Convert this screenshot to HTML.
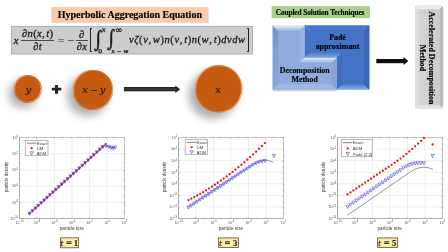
<!DOCTYPE html>
<html><head><meta charset="utf-8"><style>
*{margin:0;padding:0;box-sizing:border-box}
html,body{width:448px;height:252px;overflow:hidden;background:#fff}
body{position:relative;font-family:"Liberation Serif",serif}
.abs{position:absolute;white-space:nowrap}
.b{font-weight:bold;color:#000;-webkit-text-stroke:0.15px #000}
.eq{font-family:"DejaVu Serif",serif;font-style:italic;color:#1a1a1a;-webkit-text-stroke:0.2px #1a1a1a;position:absolute;white-space:nowrap}
.up{font-style:normal}
i{font-style:italic} b.sp{display:inline-block;width:1.3px}
svg text{font-family:"Liberation Sans",sans-serif}
</style></head><body>
<svg width="448" height="252" viewBox="0 0 448 252" style="position:absolute;left:0;top:0">
<defs>
<filter id="sh" x="-50%" y="-50%" width="200%" height="200%"><feGaussianBlur stdDeviation="4.4"/></filter>
<filter id="sb" x="-10%" y="-200%" width="120%" height="500%"><feGaussianBlur stdDeviation="0.6"/></filter>
<radialGradient id="og" cx="50%" cy="45%" r="50%">
<stop offset="0" stop-color="#c65c14"/><stop offset="0.88" stop-color="#c45a12"/><stop offset="0.95" stop-color="#d8874d"/><stop offset="1" stop-color="#c05510"/>
</radialGradient>
<linearGradient id="rim" x1="0" y1="0.2" x2="1" y2="0.8"><stop offset="0" stop-color="#fff8f0" stop-opacity="1"/><stop offset="0.25" stop-color="#f4b890" stop-opacity="0.45"/><stop offset="0.65" stop-color="#f0b080" stop-opacity="0.3"/><stop offset="1" stop-color="#ffe0c4" stop-opacity="1"/></linearGradient>
<radialGradient id="yl" cx="50%" cy="50%" r="60%"><stop offset="0" stop-color="#fff3c4"/><stop offset="0.7" stop-color="#ffe9a2"/><stop offset="1" stop-color="#ffe08a"/></radialGradient>
<linearGradient id="vg" x1="0" y1="0" x2="1" y2="0">
<stop offset="0" stop-color="#d6d6d6"/><stop offset="1" stop-color="#c9c9c9"/>
</linearGradient>
</defs>
<!-- title box -->
<rect x="51.3" y="7" width="157.3" height="15.8" fill="#f8cbad"/>
<!-- equation box -->
<rect x="11.4" y="26.4" width="241" height="27.6" fill="#cdcdcd" stroke="#93afc8" stroke-width="0.9"/>
<!-- circles -->
<circle cx="23.1" cy="93.9" r="14" fill="#8e8e92" filter="url(#sh)" opacity="0.72"/>
<circle cx="27.7" cy="88.9" r="14" fill="#c55a11"/>
<circle cx="27.7" cy="88.9" r="13.3" fill="none" stroke="url(#rim)" stroke-width="0.9"/>
<circle cx="87.45" cy="95.64999999999999" r="20.2" fill="#8e8e92" filter="url(#sh)" opacity="0.72"/>
<circle cx="92.95" cy="89.85" r="20.2" fill="#c55a11"/>
<circle cx="92.95" cy="89.85" r="19.5" fill="none" stroke="url(#rim)" stroke-width="0.9"/>
<circle cx="212.6" cy="95.0" r="23.8" fill="#8e8e92" filter="url(#sh)" opacity="0.72"/>
<circle cx="218.6" cy="88.8" r="23.8" fill="#c55a11"/>
<circle cx="218.6" cy="88.8" r="23.1" fill="none" stroke="url(#rim)" stroke-width="0.9"/>
<!-- plus -->
<rect x="51.8" y="87.7" width="9.5" height="2.9" rx="0.5" fill="#262626"/>
<rect x="54.9" y="84.9" width="3.1" height="8.8" rx="0.5" fill="#262626"/>
<!-- arrow 1 -->
<linearGradient id="ag" x1="0" y1="0" x2="0" y2="1"><stop offset="0" stop-color="#1c1c1c"/><stop offset="0.5" stop-color="#3c3c3c"/><stop offset="1" stop-color="#1c1c1c"/></linearGradient>
<rect x="123.9" y="87" width="52" height="4.3" fill="url(#ag)"/>
<path d="M175.3,85.4 L180.2,89.15 L175.3,93.1 Z" fill="#262626"/>
<!-- green box -->
<rect x="271.6" y="6.1" width="98.4" height="12.1" fill="#a9d18e"/>
<!-- blue graphic -->
<linearGradient id="lt" x1="0" y1="0" x2="0" y2="1"><stop offset="0" stop-color="#f2faff"/><stop offset="0.3" stop-color="#c6dbf6"/><stop offset="1" stop-color="#94afdf"/></linearGradient>
<linearGradient id="db" x1="0" y1="0" x2="0" y2="1"><stop offset="0" stop-color="#4a78c8"/><stop offset="1" stop-color="#86b3f2"/></linearGradient>
<linearGradient id="ds" x1="0" y1="0" x2="0" y2="1"><stop offset="0" stop-color="#4674c5"/><stop offset="1" stop-color="#7ca6e6"/></linearGradient>
<linearGradient id="ll" x1="0" y1="0" x2="0" y2="1"><stop offset="0" stop-color="#7690c8"/><stop offset="0.4" stop-color="#859fd4"/><stop offset="1" stop-color="#8ba6da"/></linearGradient>
<rect x="273" y="89.8" width="64" height="1.6" fill="#d4d4d4" filter="url(#sb)"/>
<path d="M272.7,25.6 H304.9 V57.6 H337 V89.8 H272.7 Z" fill="#8faadc"/>
<path d="M272.7,25.6 L278.2,31.1 V84.3 L272.7,89.8 Z" fill="url(#ll)"/>
<path d="M304.9,25.6 V57.6 L299.4,63.1 V31.1 Z" fill="#97b1e1"/>
<path d="M272.7,25.6 H304.9 L299.4,31.1 H278.2 Z" fill="url(#lt)"/>
<path d="M304.9,57.6 H337 L331.5,63.1 H299.4 Z" fill="url(#lt)"/>
<path d="M337,57.6 L331.5,63.1 V84.3 L337,89.8 Z" fill="#88a2d5"/>
<path d="M272.7,89.8 L278.2,84.3 H331.5 L337,89.8 Z" fill="#9fb7e3"/>
<path d="M304.9,25.6 H369.3 V89.6 H337 V57.6 H304.9 Z" fill="#4472c4"/>
<path d="M304.9,25.6 H369.3 L363.8,31.1 H310.4 Z" fill="#4876c7"/>
<path d="M304.9,57.6 H337 L342.5,52.1 H310.4 Z" fill="url(#ds)"/>
<path d="M305.2,25.8 L310.4,31.1" stroke="#6f95d8" stroke-width="0.7"/>
<path d="M337,57.6 L342.5,52.1 V84.1 L337,89.6 Z" fill="#3f6cbe"/>
<path d="M337,89.6 L342.5,84.1 H363.8 L369.3,89.6 Z" fill="url(#db)"/>
<path d="M369.3,25.6 V89.6 L363.8,84.1 V31.1 Z" fill="#3c66b5"/>
<!-- arrow 2 -->
<rect x="376.3" y="59" width="28.2" height="4.2" fill="#0d0d0d"/>
<path d="M403.6,56.9 L408.3,60.95 L403.6,64.9 Z" fill="#0d0d0d"/>
<!-- vertical box -->
<clipPath id="vc"><rect x="414.8" y="5" width="28.7" height="104" rx="4.5"/></clipPath>
<g clip-path="url(#vc)">
<rect x="414.8" y="5" width="28.7" height="104" fill="url(#vg)"/>
<path d="M414.8,5 H443.5 L440,9 H418.3 Z" fill="#ececec"/>
<path d="M414.8,5 L418.3,9 V105.5 L414.8,109 Z" fill="#dedede"/>
<path d="M443.5,5 L440,9 V105.5 L443.5,109 Z" fill="#b9b9b9"/>
<path d="M414.8,109 L418.3,105.5 H440 L443.5,109 Z" fill="#e4e4e4"/>
</g>
<!-- plots -->
<line x1="37.00" y1="137.5" x2="37.00" y2="218.5" stroke="#e4e4e4" stroke-width="0.6"/>
<line x1="54.50" y1="137.5" x2="54.50" y2="218.5" stroke="#e4e4e4" stroke-width="0.6"/>
<line x1="72.00" y1="137.5" x2="72.00" y2="218.5" stroke="#e4e4e4" stroke-width="0.6"/>
<line x1="89.50" y1="137.5" x2="89.50" y2="218.5" stroke="#e4e4e4" stroke-width="0.6"/>
<line x1="107.00" y1="137.5" x2="107.00" y2="218.5" stroke="#e4e4e4" stroke-width="0.6"/>
<line x1="19.5" y1="153.70" x2="124.5" y2="153.70" stroke="#e4e4e4" stroke-width="0.6"/>
<line x1="19.5" y1="169.90" x2="124.5" y2="169.90" stroke="#e4e4e4" stroke-width="0.6"/>
<line x1="19.5" y1="186.10" x2="124.5" y2="186.10" stroke="#e4e4e4" stroke-width="0.6"/>
<line x1="19.5" y1="202.30" x2="124.5" y2="202.30" stroke="#e4e4e4" stroke-width="0.6"/>
<rect x="19.5" y="137.5" width="105.0" height="81.0" fill="none" stroke="#c8c8c8" stroke-width="0.8"/>
<line x1="19.5" y1="137.5" x2="19.5" y2="218.5" stroke="#b4b4b4" stroke-width="0.8"/>
<line x1="19.5" y1="218.5" x2="124.5" y2="218.5" stroke="#b4b4b4" stroke-width="0.8"/>
<path d="M19.50,218.5v-1.2M19.50,137.5v1.2M22.13,218.5v-0.5M22.13,137.5v0.5M23.67,218.5v-0.5M23.67,137.5v0.5M24.77,218.5v-0.5M24.77,137.5v0.5M25.62,218.5v-0.5M25.62,137.5v0.5M26.31,218.5v-0.5M26.31,137.5v0.5M26.89,218.5v-0.5M26.89,137.5v0.5M27.40,218.5v-0.5M27.40,137.5v0.5M27.85,218.5v-0.5M27.85,137.5v0.5M28.25,218.5v-0.8M28.25,137.5v0.8M30.88,218.5v-0.5M30.88,137.5v0.5M32.42,218.5v-0.5M32.42,137.5v0.5M33.52,218.5v-0.5M33.52,137.5v0.5M34.37,218.5v-0.5M34.37,137.5v0.5M35.06,218.5v-0.5M35.06,137.5v0.5M35.64,218.5v-0.5M35.64,137.5v0.5M36.15,218.5v-0.5M36.15,137.5v0.5M36.60,218.5v-0.5M36.60,137.5v0.5M37.00,218.5v-1.2M37.00,137.5v1.2M39.63,218.5v-0.5M39.63,137.5v0.5M41.17,218.5v-0.5M41.17,137.5v0.5M42.27,218.5v-0.5M42.27,137.5v0.5M43.12,218.5v-0.5M43.12,137.5v0.5M43.81,218.5v-0.5M43.81,137.5v0.5M44.39,218.5v-0.5M44.39,137.5v0.5M44.90,218.5v-0.5M44.90,137.5v0.5M45.35,218.5v-0.5M45.35,137.5v0.5M45.75,218.5v-0.8M45.75,137.5v0.8M48.38,218.5v-0.5M48.38,137.5v0.5M49.92,218.5v-0.5M49.92,137.5v0.5M51.02,218.5v-0.5M51.02,137.5v0.5M51.87,218.5v-0.5M51.87,137.5v0.5M52.56,218.5v-0.5M52.56,137.5v0.5M53.14,218.5v-0.5M53.14,137.5v0.5M53.65,218.5v-0.5M53.65,137.5v0.5M54.10,218.5v-0.5M54.10,137.5v0.5M54.50,218.5v-1.2M54.50,137.5v1.2M57.13,218.5v-0.5M57.13,137.5v0.5M58.67,218.5v-0.5M58.67,137.5v0.5M59.77,218.5v-0.5M59.77,137.5v0.5M60.62,218.5v-0.5M60.62,137.5v0.5M61.31,218.5v-0.5M61.31,137.5v0.5M61.89,218.5v-0.5M61.89,137.5v0.5M62.40,218.5v-0.5M62.40,137.5v0.5M62.85,218.5v-0.5M62.85,137.5v0.5M63.25,218.5v-0.8M63.25,137.5v0.8M65.88,218.5v-0.5M65.88,137.5v0.5M67.42,218.5v-0.5M67.42,137.5v0.5M68.52,218.5v-0.5M68.52,137.5v0.5M69.37,218.5v-0.5M69.37,137.5v0.5M70.06,218.5v-0.5M70.06,137.5v0.5M70.64,218.5v-0.5M70.64,137.5v0.5M71.15,218.5v-0.5M71.15,137.5v0.5M71.60,218.5v-0.5M71.60,137.5v0.5M72.00,218.5v-1.2M72.00,137.5v1.2M74.63,218.5v-0.5M74.63,137.5v0.5M76.17,218.5v-0.5M76.17,137.5v0.5M77.27,218.5v-0.5M77.27,137.5v0.5M78.12,218.5v-0.5M78.12,137.5v0.5M78.81,218.5v-0.5M78.81,137.5v0.5M79.39,218.5v-0.5M79.39,137.5v0.5M79.90,218.5v-0.5M79.90,137.5v0.5M80.35,218.5v-0.5M80.35,137.5v0.5M80.75,218.5v-0.8M80.75,137.5v0.8M83.38,218.5v-0.5M83.38,137.5v0.5M84.92,218.5v-0.5M84.92,137.5v0.5M86.02,218.5v-0.5M86.02,137.5v0.5M86.87,218.5v-0.5M86.87,137.5v0.5M87.56,218.5v-0.5M87.56,137.5v0.5M88.14,218.5v-0.5M88.14,137.5v0.5M88.65,218.5v-0.5M88.65,137.5v0.5M89.10,218.5v-0.5M89.10,137.5v0.5M89.50,218.5v-1.2M89.50,137.5v1.2M92.13,218.5v-0.5M92.13,137.5v0.5M93.67,218.5v-0.5M93.67,137.5v0.5M94.77,218.5v-0.5M94.77,137.5v0.5M95.62,218.5v-0.5M95.62,137.5v0.5M96.31,218.5v-0.5M96.31,137.5v0.5M96.89,218.5v-0.5M96.89,137.5v0.5M97.40,218.5v-0.5M97.40,137.5v0.5M97.85,218.5v-0.5M97.85,137.5v0.5M98.25,218.5v-0.8M98.25,137.5v0.8M100.88,218.5v-0.5M100.88,137.5v0.5M102.42,218.5v-0.5M102.42,137.5v0.5M103.52,218.5v-0.5M103.52,137.5v0.5M104.37,218.5v-0.5M104.37,137.5v0.5M105.06,218.5v-0.5M105.06,137.5v0.5M105.64,218.5v-0.5M105.64,137.5v0.5M106.15,218.5v-0.5M106.15,137.5v0.5M106.60,218.5v-0.5M106.60,137.5v0.5M107.00,218.5v-1.2M107.00,137.5v1.2M109.63,218.5v-0.5M109.63,137.5v0.5M111.17,218.5v-0.5M111.17,137.5v0.5M112.27,218.5v-0.5M112.27,137.5v0.5M113.12,218.5v-0.5M113.12,137.5v0.5M113.81,218.5v-0.5M113.81,137.5v0.5M114.39,218.5v-0.5M114.39,137.5v0.5M114.90,218.5v-0.5M114.90,137.5v0.5M115.35,218.5v-0.5M115.35,137.5v0.5M115.75,218.5v-0.8M115.75,137.5v0.8M118.38,218.5v-0.5M118.38,137.5v0.5M119.92,218.5v-0.5M119.92,137.5v0.5M121.02,218.5v-0.5M121.02,137.5v0.5M121.87,218.5v-0.5M121.87,137.5v0.5M122.56,218.5v-0.5M122.56,137.5v0.5M123.14,218.5v-0.5M123.14,137.5v0.5M123.65,218.5v-0.5M123.65,137.5v0.5M124.10,218.5v-0.5M124.10,137.5v0.5M19.5,218.50h1.2M124.5,218.50h-1.2M19.5,216.06h0.5M124.5,216.06h-0.5M19.5,214.64h0.5M124.5,214.64h-0.5M19.5,213.62h0.5M124.5,213.62h-0.5M19.5,212.84h0.5M124.5,212.84h-0.5M19.5,212.20h0.5M124.5,212.20h-0.5M19.5,211.65h0.5M124.5,211.65h-0.5M19.5,211.18h0.5M124.5,211.18h-0.5M19.5,210.77h0.5M124.5,210.77h-0.5M19.5,210.40h0.8M124.5,210.40h-0.8M19.5,207.96h0.5M124.5,207.96h-0.5M19.5,206.54h0.5M124.5,206.54h-0.5M19.5,205.52h0.5M124.5,205.52h-0.5M19.5,204.74h0.5M124.5,204.74h-0.5M19.5,204.10h0.5M124.5,204.10h-0.5M19.5,203.55h0.5M124.5,203.55h-0.5M19.5,203.08h0.5M124.5,203.08h-0.5M19.5,202.67h0.5M124.5,202.67h-0.5M19.5,202.30h1.2M124.5,202.30h-1.2M19.5,199.86h0.5M124.5,199.86h-0.5M19.5,198.44h0.5M124.5,198.44h-0.5M19.5,197.42h0.5M124.5,197.42h-0.5M19.5,196.64h0.5M124.5,196.64h-0.5M19.5,196.00h0.5M124.5,196.00h-0.5M19.5,195.45h0.5M124.5,195.45h-0.5M19.5,194.98h0.5M124.5,194.98h-0.5M19.5,194.57h0.5M124.5,194.57h-0.5M19.5,194.20h0.8M124.5,194.20h-0.8M19.5,191.76h0.5M124.5,191.76h-0.5M19.5,190.34h0.5M124.5,190.34h-0.5M19.5,189.32h0.5M124.5,189.32h-0.5M19.5,188.54h0.5M124.5,188.54h-0.5M19.5,187.90h0.5M124.5,187.90h-0.5M19.5,187.35h0.5M124.5,187.35h-0.5M19.5,186.88h0.5M124.5,186.88h-0.5M19.5,186.47h0.5M124.5,186.47h-0.5M19.5,186.10h1.2M124.5,186.10h-1.2M19.5,183.66h0.5M124.5,183.66h-0.5M19.5,182.24h0.5M124.5,182.24h-0.5M19.5,181.22h0.5M124.5,181.22h-0.5M19.5,180.44h0.5M124.5,180.44h-0.5M19.5,179.80h0.5M124.5,179.80h-0.5M19.5,179.25h0.5M124.5,179.25h-0.5M19.5,178.78h0.5M124.5,178.78h-0.5M19.5,178.37h0.5M124.5,178.37h-0.5M19.5,178.00h0.8M124.5,178.00h-0.8M19.5,175.56h0.5M124.5,175.56h-0.5M19.5,174.14h0.5M124.5,174.14h-0.5M19.5,173.12h0.5M124.5,173.12h-0.5M19.5,172.34h0.5M124.5,172.34h-0.5M19.5,171.70h0.5M124.5,171.70h-0.5M19.5,171.15h0.5M124.5,171.15h-0.5M19.5,170.68h0.5M124.5,170.68h-0.5M19.5,170.27h0.5M124.5,170.27h-0.5M19.5,169.90h1.2M124.5,169.90h-1.2M19.5,167.46h0.5M124.5,167.46h-0.5M19.5,166.04h0.5M124.5,166.04h-0.5M19.5,165.02h0.5M124.5,165.02h-0.5M19.5,164.24h0.5M124.5,164.24h-0.5M19.5,163.60h0.5M124.5,163.60h-0.5M19.5,163.05h0.5M124.5,163.05h-0.5M19.5,162.58h0.5M124.5,162.58h-0.5M19.5,162.17h0.5M124.5,162.17h-0.5M19.5,161.80h0.8M124.5,161.80h-0.8M19.5,159.36h0.5M124.5,159.36h-0.5M19.5,157.94h0.5M124.5,157.94h-0.5M19.5,156.92h0.5M124.5,156.92h-0.5M19.5,156.14h0.5M124.5,156.14h-0.5M19.5,155.50h0.5M124.5,155.50h-0.5M19.5,154.95h0.5M124.5,154.95h-0.5M19.5,154.48h0.5M124.5,154.48h-0.5M19.5,154.07h0.5M124.5,154.07h-0.5M19.5,153.70h1.2M124.5,153.70h-1.2M19.5,151.26h0.5M124.5,151.26h-0.5M19.5,149.84h0.5M124.5,149.84h-0.5M19.5,148.82h0.5M124.5,148.82h-0.5M19.5,148.04h0.5M124.5,148.04h-0.5M19.5,147.40h0.5M124.5,147.40h-0.5M19.5,146.85h0.5M124.5,146.85h-0.5M19.5,146.38h0.5M124.5,146.38h-0.5M19.5,145.97h0.5M124.5,145.97h-0.5M19.5,145.60h0.8M124.5,145.60h-0.8M19.5,143.16h0.5M124.5,143.16h-0.5M19.5,141.74h0.5M124.5,141.74h-0.5M19.5,140.72h0.5M124.5,140.72h-0.5M19.5,139.94h0.5M124.5,139.94h-0.5M19.5,139.30h0.5M124.5,139.30h-0.5M19.5,138.75h0.5M124.5,138.75h-0.5M19.5,138.28h0.5M124.5,138.28h-0.5M19.5,137.87h0.5M124.5,137.87h-0.5" stroke="#8a8a8a" stroke-width="0.45" fill="none"/>
<text x="19.50" y="223.8" font-size="3.5" text-anchor="middle" fill="#555">10<tspan dy="-1.4" font-size="2.6">-10</tspan></text>
<text x="37.00" y="223.8" font-size="3.5" text-anchor="middle" fill="#555">10<tspan dy="-1.4" font-size="2.6">-8</tspan></text>
<text x="54.50" y="223.8" font-size="3.5" text-anchor="middle" fill="#555">10<tspan dy="-1.4" font-size="2.6">-6</tspan></text>
<text x="72.00" y="223.8" font-size="3.5" text-anchor="middle" fill="#555">10<tspan dy="-1.4" font-size="2.6">-4</tspan></text>
<text x="89.50" y="223.8" font-size="3.5" text-anchor="middle" fill="#555">10<tspan dy="-1.4" font-size="2.6">-2</tspan></text>
<text x="107.00" y="223.8" font-size="3.5" text-anchor="middle" fill="#555">10<tspan dy="-1.4" font-size="2.6">0</tspan></text>
<text x="124.50" y="223.8" font-size="3.5" text-anchor="middle" fill="#555">10<tspan dy="-1.4" font-size="2.6">2</tspan></text>
<text x="18.2" y="138.80" font-size="3.5" text-anchor="end" fill="#555">10<tspan dy="-1.4" font-size="2.6">0</tspan></text>
<text x="18.2" y="155.00" font-size="3.5" text-anchor="end" fill="#555">10<tspan dy="-1.4" font-size="2.6">-2</tspan></text>
<text x="18.2" y="171.20" font-size="3.5" text-anchor="end" fill="#555">10<tspan dy="-1.4" font-size="2.6">-4</tspan></text>
<text x="18.2" y="187.40" font-size="3.5" text-anchor="end" fill="#555">10<tspan dy="-1.4" font-size="2.6">-6</tspan></text>
<text x="18.2" y="203.60" font-size="3.5" text-anchor="end" fill="#555">10<tspan dy="-1.4" font-size="2.6">-8</tspan></text>
<text x="18.2" y="219.80" font-size="3.5" text-anchor="end" fill="#555">10<tspan dy="-1.4" font-size="2.6">-10</tspan></text>
<polyline points="29.50,213.50 104.50,145.20 108.00,146.60 115.00,148.00" fill="none" stroke="#555" stroke-width="0.7"/>
<circle cx="29.50" cy="213.50" r="1.15" fill="#ee1111"/>
<circle cx="32.43" cy="210.83" r="1.15" fill="#ee1111"/>
<circle cx="35.36" cy="208.16" r="1.15" fill="#ee1111"/>
<circle cx="38.29" cy="205.49" r="1.15" fill="#ee1111"/>
<circle cx="41.22" cy="202.82" r="1.15" fill="#ee1111"/>
<circle cx="44.15" cy="200.15" r="1.15" fill="#ee1111"/>
<circle cx="47.08" cy="197.48" r="1.15" fill="#ee1111"/>
<circle cx="50.01" cy="194.81" r="1.15" fill="#ee1111"/>
<circle cx="52.94" cy="192.14" r="1.15" fill="#ee1111"/>
<circle cx="55.87" cy="189.47" r="1.15" fill="#ee1111"/>
<circle cx="58.80" cy="186.80" r="1.15" fill="#ee1111"/>
<circle cx="61.73" cy="184.13" r="1.15" fill="#ee1111"/>
<circle cx="64.66" cy="181.46" r="1.15" fill="#ee1111"/>
<circle cx="67.59" cy="178.79" r="1.15" fill="#ee1111"/>
<circle cx="70.52" cy="176.12" r="1.15" fill="#ee1111"/>
<circle cx="73.45" cy="173.45" r="1.15" fill="#ee1111"/>
<circle cx="76.38" cy="170.78" r="1.15" fill="#ee1111"/>
<circle cx="79.31" cy="168.11" r="1.15" fill="#ee1111"/>
<circle cx="82.24" cy="165.44" r="1.15" fill="#ee1111"/>
<circle cx="85.17" cy="162.77" r="1.15" fill="#ee1111"/>
<circle cx="88.10" cy="160.10" r="1.15" fill="#ee1111"/>
<circle cx="91.03" cy="157.43" r="1.15" fill="#ee1111"/>
<circle cx="93.96" cy="154.76" r="1.15" fill="#ee1111"/>
<circle cx="96.89" cy="152.09" r="1.15" fill="#ee1111"/>
<circle cx="99.82" cy="149.42" r="1.15" fill="#ee1111"/>
<circle cx="102.75" cy="146.75" r="1.15" fill="#ee1111"/>
<circle cx="105.68" cy="144.08" r="1.15" fill="#ee1111"/>
<path d="M27.95,212.20h3.1l-1.55,3.1z" fill="none" stroke="#3434ee" stroke-width="0.55"/>
<path d="M30.88,209.53h3.1l-1.55,3.1z" fill="none" stroke="#3434ee" stroke-width="0.55"/>
<path d="M33.81,206.86h3.1l-1.55,3.1z" fill="none" stroke="#3434ee" stroke-width="0.55"/>
<path d="M36.74,204.19h3.1l-1.55,3.1z" fill="none" stroke="#3434ee" stroke-width="0.55"/>
<path d="M39.67,201.52h3.1l-1.55,3.1z" fill="none" stroke="#3434ee" stroke-width="0.55"/>
<path d="M42.60,198.85h3.1l-1.55,3.1z" fill="none" stroke="#3434ee" stroke-width="0.55"/>
<path d="M45.53,196.18h3.1l-1.55,3.1z" fill="none" stroke="#3434ee" stroke-width="0.55"/>
<path d="M48.46,193.51h3.1l-1.55,3.1z" fill="none" stroke="#3434ee" stroke-width="0.55"/>
<path d="M51.39,190.84h3.1l-1.55,3.1z" fill="none" stroke="#3434ee" stroke-width="0.55"/>
<path d="M54.32,188.17h3.1l-1.55,3.1z" fill="none" stroke="#3434ee" stroke-width="0.55"/>
<path d="M57.25,185.50h3.1l-1.55,3.1z" fill="none" stroke="#3434ee" stroke-width="0.55"/>
<path d="M60.18,182.83h3.1l-1.55,3.1z" fill="none" stroke="#3434ee" stroke-width="0.55"/>
<path d="M63.11,180.16h3.1l-1.55,3.1z" fill="none" stroke="#3434ee" stroke-width="0.55"/>
<path d="M66.04,177.49h3.1l-1.55,3.1z" fill="none" stroke="#3434ee" stroke-width="0.55"/>
<path d="M68.97,174.82h3.1l-1.55,3.1z" fill="none" stroke="#3434ee" stroke-width="0.55"/>
<path d="M71.90,172.15h3.1l-1.55,3.1z" fill="none" stroke="#3434ee" stroke-width="0.55"/>
<path d="M74.83,169.48h3.1l-1.55,3.1z" fill="none" stroke="#3434ee" stroke-width="0.55"/>
<path d="M77.76,166.81h3.1l-1.55,3.1z" fill="none" stroke="#3434ee" stroke-width="0.55"/>
<path d="M80.69,164.14h3.1l-1.55,3.1z" fill="none" stroke="#3434ee" stroke-width="0.55"/>
<path d="M83.62,161.47h3.1l-1.55,3.1z" fill="none" stroke="#3434ee" stroke-width="0.55"/>
<path d="M86.55,158.80h3.1l-1.55,3.1z" fill="none" stroke="#3434ee" stroke-width="0.55"/>
<path d="M89.48,156.13h3.1l-1.55,3.1z" fill="none" stroke="#3434ee" stroke-width="0.55"/>
<path d="M92.41,153.46h3.1l-1.55,3.1z" fill="none" stroke="#3434ee" stroke-width="0.55"/>
<path d="M95.34,150.79h3.1l-1.55,3.1z" fill="none" stroke="#3434ee" stroke-width="0.55"/>
<path d="M98.27,148.12h3.1l-1.55,3.1z" fill="none" stroke="#3434ee" stroke-width="0.55"/>
<path d="M101.20,145.45h3.1l-1.55,3.1z" fill="none" stroke="#3434ee" stroke-width="0.55"/>
<path d="M104.25,145.00h3.1l-1.55,3.1z" fill="none" stroke="#3434ee" stroke-width="0.55"/>
<path d="M107.15,145.60h3.1l-1.55,3.1z" fill="none" stroke="#3434ee" stroke-width="0.55"/>
<path d="M109.65,146.40h3.1l-1.55,3.1z" fill="none" stroke="#3434ee" stroke-width="0.55"/>
<path d="M111.65,147.10h3.1l-1.55,3.1z" fill="none" stroke="#3434ee" stroke-width="0.55"/>
<path d="M113.55,146.00h3.1l-1.55,3.1z" fill="none" stroke="#3434ee" stroke-width="0.55"/>
<rect x="25.3" y="140.4" width="22.7" height="15.199999999999989" fill="#fff" stroke="#a8a8a8" stroke-width="0.8"/>
<line x1="26.900000000000002" y1="143.13" x2="36.1" y2="143.13" stroke="#606060" stroke-width="0.8"/>
<text x="36.7" y="144.63" font-size="4.3" fill="#3a3a3a">Exact</text>
<circle cx="31.70" cy="148.20" r="1.15" fill="#ee1111"/>
<text x="36.7" y="149.70" font-size="4.3" fill="#3a3a3a">DM</text>
<path d="M29.95,151.77h3.5l-1.75,3.1z" fill="none" stroke="#3030e8" stroke-width="0.55"/>
<text x="36.7" y="154.77" font-size="4.3" fill="#3a3a3a">ADM</text>
<line x1="196.00" y1="137.5" x2="196.00" y2="218.5" stroke="#e4e4e4" stroke-width="0.6"/>
<line x1="213.50" y1="137.5" x2="213.50" y2="218.5" stroke="#e4e4e4" stroke-width="0.6"/>
<line x1="231.00" y1="137.5" x2="231.00" y2="218.5" stroke="#e4e4e4" stroke-width="0.6"/>
<line x1="248.50" y1="137.5" x2="248.50" y2="218.5" stroke="#e4e4e4" stroke-width="0.6"/>
<line x1="266.00" y1="137.5" x2="266.00" y2="218.5" stroke="#e4e4e4" stroke-width="0.6"/>
<line x1="178.5" y1="149.07" x2="283.5" y2="149.07" stroke="#e4e4e4" stroke-width="0.6"/>
<line x1="178.5" y1="160.64" x2="283.5" y2="160.64" stroke="#e4e4e4" stroke-width="0.6"/>
<line x1="178.5" y1="172.21" x2="283.5" y2="172.21" stroke="#e4e4e4" stroke-width="0.6"/>
<line x1="178.5" y1="183.79" x2="283.5" y2="183.79" stroke="#e4e4e4" stroke-width="0.6"/>
<line x1="178.5" y1="195.36" x2="283.5" y2="195.36" stroke="#e4e4e4" stroke-width="0.6"/>
<line x1="178.5" y1="206.93" x2="283.5" y2="206.93" stroke="#e4e4e4" stroke-width="0.6"/>
<rect x="178.5" y="137.5" width="105.0" height="81.0" fill="none" stroke="#c8c8c8" stroke-width="0.8"/>
<line x1="178.5" y1="137.5" x2="178.5" y2="218.5" stroke="#b4b4b4" stroke-width="0.8"/>
<line x1="178.5" y1="218.5" x2="283.5" y2="218.5" stroke="#b4b4b4" stroke-width="0.8"/>
<path d="M178.50,218.5v-1.2M178.50,137.5v1.2M181.13,218.5v-0.5M181.13,137.5v0.5M182.67,218.5v-0.5M182.67,137.5v0.5M183.77,218.5v-0.5M183.77,137.5v0.5M184.62,218.5v-0.5M184.62,137.5v0.5M185.31,218.5v-0.5M185.31,137.5v0.5M185.89,218.5v-0.5M185.89,137.5v0.5M186.40,218.5v-0.5M186.40,137.5v0.5M186.85,218.5v-0.5M186.85,137.5v0.5M187.25,218.5v-0.8M187.25,137.5v0.8M189.88,218.5v-0.5M189.88,137.5v0.5M191.42,218.5v-0.5M191.42,137.5v0.5M192.52,218.5v-0.5M192.52,137.5v0.5M193.37,218.5v-0.5M193.37,137.5v0.5M194.06,218.5v-0.5M194.06,137.5v0.5M194.64,218.5v-0.5M194.64,137.5v0.5M195.15,218.5v-0.5M195.15,137.5v0.5M195.60,218.5v-0.5M195.60,137.5v0.5M196.00,218.5v-1.2M196.00,137.5v1.2M198.63,218.5v-0.5M198.63,137.5v0.5M200.17,218.5v-0.5M200.17,137.5v0.5M201.27,218.5v-0.5M201.27,137.5v0.5M202.12,218.5v-0.5M202.12,137.5v0.5M202.81,218.5v-0.5M202.81,137.5v0.5M203.39,218.5v-0.5M203.39,137.5v0.5M203.90,218.5v-0.5M203.90,137.5v0.5M204.35,218.5v-0.5M204.35,137.5v0.5M204.75,218.5v-0.8M204.75,137.5v0.8M207.38,218.5v-0.5M207.38,137.5v0.5M208.92,218.5v-0.5M208.92,137.5v0.5M210.02,218.5v-0.5M210.02,137.5v0.5M210.87,218.5v-0.5M210.87,137.5v0.5M211.56,218.5v-0.5M211.56,137.5v0.5M212.14,218.5v-0.5M212.14,137.5v0.5M212.65,218.5v-0.5M212.65,137.5v0.5M213.10,218.5v-0.5M213.10,137.5v0.5M213.50,218.5v-1.2M213.50,137.5v1.2M216.13,218.5v-0.5M216.13,137.5v0.5M217.67,218.5v-0.5M217.67,137.5v0.5M218.77,218.5v-0.5M218.77,137.5v0.5M219.62,218.5v-0.5M219.62,137.5v0.5M220.31,218.5v-0.5M220.31,137.5v0.5M220.89,218.5v-0.5M220.89,137.5v0.5M221.40,218.5v-0.5M221.40,137.5v0.5M221.85,218.5v-0.5M221.85,137.5v0.5M222.25,218.5v-0.8M222.25,137.5v0.8M224.88,218.5v-0.5M224.88,137.5v0.5M226.42,218.5v-0.5M226.42,137.5v0.5M227.52,218.5v-0.5M227.52,137.5v0.5M228.37,218.5v-0.5M228.37,137.5v0.5M229.06,218.5v-0.5M229.06,137.5v0.5M229.64,218.5v-0.5M229.64,137.5v0.5M230.15,218.5v-0.5M230.15,137.5v0.5M230.60,218.5v-0.5M230.60,137.5v0.5M231.00,218.5v-1.2M231.00,137.5v1.2M233.63,218.5v-0.5M233.63,137.5v0.5M235.17,218.5v-0.5M235.17,137.5v0.5M236.27,218.5v-0.5M236.27,137.5v0.5M237.12,218.5v-0.5M237.12,137.5v0.5M237.81,218.5v-0.5M237.81,137.5v0.5M238.39,218.5v-0.5M238.39,137.5v0.5M238.90,218.5v-0.5M238.90,137.5v0.5M239.35,218.5v-0.5M239.35,137.5v0.5M239.75,218.5v-0.8M239.75,137.5v0.8M242.38,218.5v-0.5M242.38,137.5v0.5M243.92,218.5v-0.5M243.92,137.5v0.5M245.02,218.5v-0.5M245.02,137.5v0.5M245.87,218.5v-0.5M245.87,137.5v0.5M246.56,218.5v-0.5M246.56,137.5v0.5M247.14,218.5v-0.5M247.14,137.5v0.5M247.65,218.5v-0.5M247.65,137.5v0.5M248.10,218.5v-0.5M248.10,137.5v0.5M248.50,218.5v-1.2M248.50,137.5v1.2M251.13,218.5v-0.5M251.13,137.5v0.5M252.67,218.5v-0.5M252.67,137.5v0.5M253.77,218.5v-0.5M253.77,137.5v0.5M254.62,218.5v-0.5M254.62,137.5v0.5M255.31,218.5v-0.5M255.31,137.5v0.5M255.89,218.5v-0.5M255.89,137.5v0.5M256.40,218.5v-0.5M256.40,137.5v0.5M256.85,218.5v-0.5M256.85,137.5v0.5M257.25,218.5v-0.8M257.25,137.5v0.8M259.88,218.5v-0.5M259.88,137.5v0.5M261.42,218.5v-0.5M261.42,137.5v0.5M262.52,218.5v-0.5M262.52,137.5v0.5M263.37,218.5v-0.5M263.37,137.5v0.5M264.06,218.5v-0.5M264.06,137.5v0.5M264.64,218.5v-0.5M264.64,137.5v0.5M265.15,218.5v-0.5M265.15,137.5v0.5M265.60,218.5v-0.5M265.60,137.5v0.5M266.00,218.5v-1.2M266.00,137.5v1.2M268.63,218.5v-0.5M268.63,137.5v0.5M270.17,218.5v-0.5M270.17,137.5v0.5M271.27,218.5v-0.5M271.27,137.5v0.5M272.12,218.5v-0.5M272.12,137.5v0.5M272.81,218.5v-0.5M272.81,137.5v0.5M273.39,218.5v-0.5M273.39,137.5v0.5M273.90,218.5v-0.5M273.90,137.5v0.5M274.35,218.5v-0.5M274.35,137.5v0.5M274.75,218.5v-0.8M274.75,137.5v0.8M277.38,218.5v-0.5M277.38,137.5v0.5M278.92,218.5v-0.5M278.92,137.5v0.5M280.02,218.5v-0.5M280.02,137.5v0.5M280.87,218.5v-0.5M280.87,137.5v0.5M281.56,218.5v-0.5M281.56,137.5v0.5M282.14,218.5v-0.5M282.14,137.5v0.5M282.65,218.5v-0.5M282.65,137.5v0.5M283.10,218.5v-0.5M283.10,137.5v0.5M178.5,218.50h1.2M283.5,218.50h-1.2M178.5,216.76h0.5M283.5,216.76h-0.5M178.5,215.74h0.5M283.5,215.74h-0.5M178.5,215.02h0.5M283.5,215.02h-0.5M178.5,214.46h0.5M283.5,214.46h-0.5M178.5,214.00h0.5M283.5,214.00h-0.5M178.5,213.61h0.5M283.5,213.61h-0.5M178.5,213.27h0.5M283.5,213.27h-0.5M178.5,212.98h0.5M283.5,212.98h-0.5M178.5,212.71h0.8M283.5,212.71h-0.8M178.5,210.97h0.5M283.5,210.97h-0.5M178.5,209.95h0.5M283.5,209.95h-0.5M178.5,209.23h0.5M283.5,209.23h-0.5M178.5,208.67h0.5M283.5,208.67h-0.5M178.5,208.21h0.5M283.5,208.21h-0.5M178.5,207.82h0.5M283.5,207.82h-0.5M178.5,207.49h0.5M283.5,207.49h-0.5M178.5,207.19h0.5M283.5,207.19h-0.5M178.5,206.93h1.2M283.5,206.93h-1.2M178.5,205.19h0.5M283.5,205.19h-0.5M178.5,204.17h0.5M283.5,204.17h-0.5M178.5,203.45h0.5M283.5,203.45h-0.5M178.5,202.88h0.5M283.5,202.88h-0.5M178.5,202.43h0.5M283.5,202.43h-0.5M178.5,202.04h0.5M283.5,202.04h-0.5M178.5,201.70h0.5M283.5,201.70h-0.5M178.5,201.41h0.5M283.5,201.41h-0.5M178.5,201.14h0.8M283.5,201.14h-0.8M178.5,199.40h0.5M283.5,199.40h-0.5M178.5,198.38h0.5M283.5,198.38h-0.5M178.5,197.66h0.5M283.5,197.66h-0.5M178.5,197.10h0.5M283.5,197.10h-0.5M178.5,196.64h0.5M283.5,196.64h-0.5M178.5,196.25h0.5M283.5,196.25h-0.5M178.5,195.92h0.5M283.5,195.92h-0.5M178.5,195.62h0.5M283.5,195.62h-0.5M178.5,195.36h1.2M283.5,195.36h-1.2M178.5,193.62h0.5M283.5,193.62h-0.5M178.5,192.60h0.5M283.5,192.60h-0.5M178.5,191.87h0.5M283.5,191.87h-0.5M178.5,191.31h0.5M283.5,191.31h-0.5M178.5,190.85h0.5M283.5,190.85h-0.5M178.5,190.47h0.5M283.5,190.47h-0.5M178.5,190.13h0.5M283.5,190.13h-0.5M178.5,189.84h0.5M283.5,189.84h-0.5M178.5,189.57h0.8M283.5,189.57h-0.8M178.5,187.83h0.5M283.5,187.83h-0.5M178.5,186.81h0.5M283.5,186.81h-0.5M178.5,186.09h0.5M283.5,186.09h-0.5M178.5,185.53h0.5M283.5,185.53h-0.5M178.5,185.07h0.5M283.5,185.07h-0.5M178.5,184.68h0.5M283.5,184.68h-0.5M178.5,184.35h0.5M283.5,184.35h-0.5M178.5,184.05h0.5M283.5,184.05h-0.5M178.5,183.79h1.2M283.5,183.79h-1.2M178.5,182.04h0.5M283.5,182.04h-0.5M178.5,181.03h0.5M283.5,181.03h-0.5M178.5,180.30h0.5M283.5,180.30h-0.5M178.5,179.74h0.5M283.5,179.74h-0.5M178.5,179.28h0.5M283.5,179.28h-0.5M178.5,178.90h0.5M283.5,178.90h-0.5M178.5,178.56h0.5M283.5,178.56h-0.5M178.5,178.26h0.5M283.5,178.26h-0.5M178.5,178.00h0.8M283.5,178.00h-0.8M178.5,176.26h0.5M283.5,176.26h-0.5M178.5,175.24h0.5M283.5,175.24h-0.5M178.5,174.52h0.5M283.5,174.52h-0.5M178.5,173.96h0.5M283.5,173.96h-0.5M178.5,173.50h0.5M283.5,173.50h-0.5M178.5,173.11h0.5M283.5,173.11h-0.5M178.5,172.77h0.5M283.5,172.77h-0.5M178.5,172.48h0.5M283.5,172.48h-0.5M178.5,172.21h1.2M283.5,172.21h-1.2M178.5,170.47h0.5M283.5,170.47h-0.5M178.5,169.45h0.5M283.5,169.45h-0.5M178.5,168.73h0.5M283.5,168.73h-0.5M178.5,168.17h0.5M283.5,168.17h-0.5M178.5,167.71h0.5M283.5,167.71h-0.5M178.5,167.32h0.5M283.5,167.32h-0.5M178.5,166.99h0.5M283.5,166.99h-0.5M178.5,166.69h0.5M283.5,166.69h-0.5M178.5,166.43h0.8M283.5,166.43h-0.8M178.5,164.69h0.5M283.5,164.69h-0.5M178.5,163.67h0.5M283.5,163.67h-0.5M178.5,162.95h0.5M283.5,162.95h-0.5M178.5,162.38h0.5M283.5,162.38h-0.5M178.5,161.93h0.5M283.5,161.93h-0.5M178.5,161.54h0.5M283.5,161.54h-0.5M178.5,161.20h0.5M283.5,161.20h-0.5M178.5,160.91h0.5M283.5,160.91h-0.5M178.5,160.64h1.2M283.5,160.64h-1.2M178.5,158.90h0.5M283.5,158.90h-0.5M178.5,157.88h0.5M283.5,157.88h-0.5M178.5,157.16h0.5M283.5,157.16h-0.5M178.5,156.60h0.5M283.5,156.60h-0.5M178.5,156.14h0.5M283.5,156.14h-0.5M178.5,155.75h0.5M283.5,155.75h-0.5M178.5,155.42h0.5M283.5,155.42h-0.5M178.5,155.12h0.5M283.5,155.12h-0.5M178.5,154.86h0.8M283.5,154.86h-0.8M178.5,153.12h0.5M283.5,153.12h-0.5M178.5,152.10h0.5M283.5,152.10h-0.5M178.5,151.37h0.5M283.5,151.37h-0.5M178.5,150.81h0.5M283.5,150.81h-0.5M178.5,150.35h0.5M283.5,150.35h-0.5M178.5,149.97h0.5M283.5,149.97h-0.5M178.5,149.63h0.5M283.5,149.63h-0.5M178.5,149.34h0.5M283.5,149.34h-0.5M178.5,149.07h1.2M283.5,149.07h-1.2M178.5,147.33h0.5M283.5,147.33h-0.5M178.5,146.31h0.5M283.5,146.31h-0.5M178.5,145.59h0.5M283.5,145.59h-0.5M178.5,145.03h0.5M283.5,145.03h-0.5M178.5,144.57h0.5M283.5,144.57h-0.5M178.5,144.18h0.5M283.5,144.18h-0.5M178.5,143.85h0.5M283.5,143.85h-0.5M178.5,143.55h0.5M283.5,143.55h-0.5M178.5,143.29h0.8M283.5,143.29h-0.8M178.5,141.54h0.5M283.5,141.54h-0.5M178.5,140.53h0.5M283.5,140.53h-0.5M178.5,139.80h0.5M283.5,139.80h-0.5M178.5,139.24h0.5M283.5,139.24h-0.5M178.5,138.78h0.5M283.5,138.78h-0.5M178.5,138.40h0.5M283.5,138.40h-0.5M178.5,138.06h0.5M283.5,138.06h-0.5M178.5,137.76h0.5M283.5,137.76h-0.5" stroke="#8a8a8a" stroke-width="0.45" fill="none"/>
<text x="178.50" y="223.8" font-size="3.5" text-anchor="middle" fill="#555">10<tspan dy="-1.4" font-size="2.6">-10</tspan></text>
<text x="196.00" y="223.8" font-size="3.5" text-anchor="middle" fill="#555">10<tspan dy="-1.4" font-size="2.6">-8</tspan></text>
<text x="213.50" y="223.8" font-size="3.5" text-anchor="middle" fill="#555">10<tspan dy="-1.4" font-size="2.6">-6</tspan></text>
<text x="231.00" y="223.8" font-size="3.5" text-anchor="middle" fill="#555">10<tspan dy="-1.4" font-size="2.6">-4</tspan></text>
<text x="248.50" y="223.8" font-size="3.5" text-anchor="middle" fill="#555">10<tspan dy="-1.4" font-size="2.6">-2</tspan></text>
<text x="266.00" y="223.8" font-size="3.5" text-anchor="middle" fill="#555">10<tspan dy="-1.4" font-size="2.6">0</tspan></text>
<text x="283.50" y="223.8" font-size="3.5" text-anchor="middle" fill="#555">10<tspan dy="-1.4" font-size="2.6">2</tspan></text>
<text x="177.2" y="138.80" font-size="3.5" text-anchor="end" fill="#555">10<tspan dy="-1.4" font-size="2.6">0</tspan></text>
<text x="177.2" y="150.37" font-size="3.5" text-anchor="end" fill="#555">10<tspan dy="-1.4" font-size="2.6">-2</tspan></text>
<text x="177.2" y="161.94" font-size="3.5" text-anchor="end" fill="#555">10<tspan dy="-1.4" font-size="2.6">-4</tspan></text>
<text x="177.2" y="173.51" font-size="3.5" text-anchor="end" fill="#555">10<tspan dy="-1.4" font-size="2.6">-6</tspan></text>
<text x="177.2" y="185.09" font-size="3.5" text-anchor="end" fill="#555">10<tspan dy="-1.4" font-size="2.6">-8</tspan></text>
<text x="177.2" y="196.66" font-size="3.5" text-anchor="end" fill="#555">10<tspan dy="-1.4" font-size="2.6">-10</tspan></text>
<text x="177.2" y="208.23" font-size="3.5" text-anchor="end" fill="#555">10<tspan dy="-1.4" font-size="2.6">-12</tspan></text>
<text x="177.2" y="219.80" font-size="3.5" text-anchor="end" fill="#555">10<tspan dy="-1.4" font-size="2.6">-14</tspan></text>
<polyline points="188.40,206.90 188.90,206.57 189.40,206.24 189.90,205.91 190.40,205.58 190.90,205.25 191.40,204.92 191.90,204.59 192.40,204.26 192.90,203.93 193.40,203.60 193.90,203.27 194.40,202.94 194.90,202.61 195.40,202.28 195.90,201.95 196.40,201.62 196.90,201.29 197.40,200.96 197.90,200.63 198.40,200.30 198.90,199.97 199.40,199.64 199.90,199.31 200.40,198.98 200.90,198.65 201.40,198.32 201.90,197.99 202.40,197.66 202.90,197.33 203.40,197.00 203.90,196.67 204.40,196.34 204.90,196.01 205.40,195.68 205.90,195.35 206.40,195.02 206.90,194.69 207.40,194.36 207.90,194.03 208.40,193.70 208.90,193.37 209.40,193.04 209.90,192.71 210.40,192.38 210.90,192.05 211.40,191.72 211.90,191.39 212.40,191.06 212.90,190.73 213.40,190.40 213.90,190.07 214.40,189.74 214.90,189.41 215.40,189.08 215.90,188.75 216.40,188.42 216.90,188.09 217.40,187.76 217.90,187.43 218.40,187.10 218.90,186.77 219.40,186.44 219.90,186.11 220.40,185.78 220.90,185.45 221.40,185.12 221.90,184.79 222.40,184.46 222.90,184.13 223.40,183.80 223.90,183.47 224.40,183.14 224.90,182.81 225.40,182.48 225.90,182.15 226.40,181.82 226.90,181.49 227.40,181.16 227.90,180.83 228.40,180.50 228.90,180.17 229.40,179.84 229.90,179.51 230.40,179.18 230.90,178.85 231.40,178.52 231.90,178.19 232.40,177.86 232.90,177.53 233.40,177.20 233.90,176.87 234.40,176.54 234.90,176.21 235.40,175.88 235.90,175.55 236.40,175.22 236.90,174.89 237.40,174.56 237.90,174.23 238.40,173.90 238.90,173.57 239.40,173.24 239.90,172.91 240.40,172.58 240.90,172.25 241.40,171.92 241.90,171.59 242.40,171.26 242.90,170.93 243.40,170.60 243.90,170.27 244.40,169.94 244.90,169.61 245.40,169.28 245.90,168.95 246.40,168.62 246.90,168.29 247.40,167.96 247.90,167.63 248.40,167.30 248.90,166.97 249.40,166.64 249.90,166.31 250.40,165.98 250.90,165.65 251.40,165.32 251.90,165.01 252.40,164.70 252.90,164.40 253.40,164.12 253.90,163.84 254.40,163.58 254.90,163.32 255.40,163.08 255.90,162.85 256.40,162.62 256.90,162.41 257.40,162.20 257.90,162.01 258.40,161.83 258.90,161.66 259.40,161.50 259.90,161.34 260.40,161.20 260.90,161.07 261.40,160.95 261.90,160.84 262.40,160.74 262.90,160.65 263.40,160.57 263.90,160.50 264.40,160.44 264.90,160.39 265.40,160.36 265.90,160.33 266.40,160.31 266.90,160.30 267.40,160.35 267.90,160.43 268.40,160.52 268.90,160.64 269.40,160.77 269.90,160.93 270.40,161.11 270.90,161.30 271.40,161.52 271.90,161.75 272.40,162.01 272.90,162.29 273.40,162.58" fill="none" stroke="#555" stroke-width="0.7"/>
<circle cx="188.40" cy="200.10" r="1.15" fill="#ee1111"/>
<circle cx="191.34" cy="198.63" r="1.15" fill="#ee1111"/>
<circle cx="194.28" cy="197.09" r="1.15" fill="#ee1111"/>
<circle cx="197.23" cy="195.50" r="1.15" fill="#ee1111"/>
<circle cx="200.17" cy="193.86" r="1.15" fill="#ee1111"/>
<circle cx="203.11" cy="192.15" r="1.15" fill="#ee1111"/>
<circle cx="206.05" cy="190.39" r="1.15" fill="#ee1111"/>
<circle cx="209.00" cy="188.57" r="1.15" fill="#ee1111"/>
<circle cx="211.94" cy="186.70" r="1.15" fill="#ee1111"/>
<circle cx="214.88" cy="184.76" r="1.15" fill="#ee1111"/>
<circle cx="217.82" cy="182.77" r="1.15" fill="#ee1111"/>
<circle cx="220.77" cy="180.72" r="1.15" fill="#ee1111"/>
<circle cx="223.71" cy="178.62" r="1.15" fill="#ee1111"/>
<circle cx="226.65" cy="176.45" r="1.15" fill="#ee1111"/>
<circle cx="229.59" cy="174.23" r="1.15" fill="#ee1111"/>
<circle cx="232.53" cy="171.95" r="1.15" fill="#ee1111"/>
<circle cx="235.48" cy="169.62" r="1.15" fill="#ee1111"/>
<circle cx="238.42" cy="167.22" r="1.15" fill="#ee1111"/>
<circle cx="241.36" cy="164.77" r="1.15" fill="#ee1111"/>
<circle cx="244.30" cy="162.27" r="1.15" fill="#ee1111"/>
<circle cx="247.25" cy="159.70" r="1.15" fill="#ee1111"/>
<circle cx="250.19" cy="157.08" r="1.15" fill="#ee1111"/>
<circle cx="253.13" cy="154.40" r="1.15" fill="#ee1111"/>
<circle cx="256.07" cy="151.66" r="1.15" fill="#ee1111"/>
<circle cx="259.02" cy="148.86" r="1.15" fill="#ee1111"/>
<circle cx="261.96" cy="146.01" r="1.15" fill="#ee1111"/>
<circle cx="264.90" cy="143.10" r="1.15" fill="#ee1111"/>
<path d="M186.85,206.00h3.1l-1.55,3.1z" fill="none" stroke="#3434ee" stroke-width="0.55"/>
<path d="M189.79,204.06h3.1l-1.55,3.1z" fill="none" stroke="#3434ee" stroke-width="0.55"/>
<path d="M192.73,202.12h3.1l-1.55,3.1z" fill="none" stroke="#3434ee" stroke-width="0.55"/>
<path d="M195.68,200.17h3.1l-1.55,3.1z" fill="none" stroke="#3434ee" stroke-width="0.55"/>
<path d="M198.62,198.23h3.1l-1.55,3.1z" fill="none" stroke="#3434ee" stroke-width="0.55"/>
<path d="M201.56,196.29h3.1l-1.55,3.1z" fill="none" stroke="#3434ee" stroke-width="0.55"/>
<path d="M204.50,194.35h3.1l-1.55,3.1z" fill="none" stroke="#3434ee" stroke-width="0.55"/>
<path d="M207.45,192.41h3.1l-1.55,3.1z" fill="none" stroke="#3434ee" stroke-width="0.55"/>
<path d="M210.39,190.46h3.1l-1.55,3.1z" fill="none" stroke="#3434ee" stroke-width="0.55"/>
<path d="M213.33,188.52h3.1l-1.55,3.1z" fill="none" stroke="#3434ee" stroke-width="0.55"/>
<path d="M216.27,186.58h3.1l-1.55,3.1z" fill="none" stroke="#3434ee" stroke-width="0.55"/>
<path d="M219.22,184.64h3.1l-1.55,3.1z" fill="none" stroke="#3434ee" stroke-width="0.55"/>
<path d="M222.16,182.70h3.1l-1.55,3.1z" fill="none" stroke="#3434ee" stroke-width="0.55"/>
<path d="M225.10,180.75h3.1l-1.55,3.1z" fill="none" stroke="#3434ee" stroke-width="0.55"/>
<path d="M228.04,178.81h3.1l-1.55,3.1z" fill="none" stroke="#3434ee" stroke-width="0.55"/>
<path d="M230.98,176.87h3.1l-1.55,3.1z" fill="none" stroke="#3434ee" stroke-width="0.55"/>
<path d="M233.93,174.93h3.1l-1.55,3.1z" fill="none" stroke="#3434ee" stroke-width="0.55"/>
<path d="M236.87,172.99h3.1l-1.55,3.1z" fill="none" stroke="#3434ee" stroke-width="0.55"/>
<path d="M239.81,171.05h3.1l-1.55,3.1z" fill="none" stroke="#3434ee" stroke-width="0.55"/>
<path d="M242.75,169.10h3.1l-1.55,3.1z" fill="none" stroke="#3434ee" stroke-width="0.55"/>
<path d="M245.70,167.16h3.1l-1.55,3.1z" fill="none" stroke="#3434ee" stroke-width="0.55"/>
<path d="M248.64,165.22h3.1l-1.55,3.1z" fill="none" stroke="#3434ee" stroke-width="0.55"/>
<path d="M251.58,163.37h3.1l-1.55,3.1z" fill="none" stroke="#3434ee" stroke-width="0.55"/>
<path d="M254.52,161.87h3.1l-1.55,3.1z" fill="none" stroke="#3434ee" stroke-width="0.55"/>
<path d="M257.47,160.72h3.1l-1.55,3.1z" fill="none" stroke="#3434ee" stroke-width="0.55"/>
<path d="M260.41,159.93h3.1l-1.55,3.1z" fill="none" stroke="#3434ee" stroke-width="0.55"/>
<path d="M263.35,159.49h3.1l-1.55,3.1z" fill="none" stroke="#3434ee" stroke-width="0.55"/>
<path d="M272.35,154.40h3.1l-1.55,3.1z" fill="none" stroke="#3434ee" stroke-width="0.55"/>
<rect x="185.2" y="139.7" width="22.400000000000006" height="14.800000000000011" fill="#fff" stroke="#a8a8a8" stroke-width="0.8"/>
<line x1="186.79999999999998" y1="142.37" x2="196.0" y2="142.37" stroke="#606060" stroke-width="0.8"/>
<text x="196.6" y="143.87" font-size="4.3" fill="#3a3a3a">Exact</text>
<circle cx="191.60" cy="147.30" r="1.15" fill="#ee1111"/>
<text x="196.6" y="148.80" font-size="4.3" fill="#3a3a3a">DM</text>
<path d="M189.85,150.73h3.5l-1.75,3.1z" fill="none" stroke="#3030e8" stroke-width="0.55"/>
<text x="196.6" y="153.73" font-size="4.3" fill="#3a3a3a">ADM</text>
<line x1="355.00" y1="137.5" x2="355.00" y2="218.5" stroke="#e4e4e4" stroke-width="0.6"/>
<line x1="372.50" y1="137.5" x2="372.50" y2="218.5" stroke="#e4e4e4" stroke-width="0.6"/>
<line x1="390.00" y1="137.5" x2="390.00" y2="218.5" stroke="#e4e4e4" stroke-width="0.6"/>
<line x1="407.50" y1="137.5" x2="407.50" y2="218.5" stroke="#e4e4e4" stroke-width="0.6"/>
<line x1="425.00" y1="137.5" x2="425.00" y2="218.5" stroke="#e4e4e4" stroke-width="0.6"/>
<line x1="337.5" y1="149.07" x2="442.5" y2="149.07" stroke="#e4e4e4" stroke-width="0.6"/>
<line x1="337.5" y1="160.64" x2="442.5" y2="160.64" stroke="#e4e4e4" stroke-width="0.6"/>
<line x1="337.5" y1="172.21" x2="442.5" y2="172.21" stroke="#e4e4e4" stroke-width="0.6"/>
<line x1="337.5" y1="183.79" x2="442.5" y2="183.79" stroke="#e4e4e4" stroke-width="0.6"/>
<line x1="337.5" y1="195.36" x2="442.5" y2="195.36" stroke="#e4e4e4" stroke-width="0.6"/>
<line x1="337.5" y1="206.93" x2="442.5" y2="206.93" stroke="#e4e4e4" stroke-width="0.6"/>
<rect x="337.5" y="137.5" width="105.0" height="81.0" fill="none" stroke="#c8c8c8" stroke-width="0.8"/>
<line x1="337.5" y1="137.5" x2="337.5" y2="218.5" stroke="#b4b4b4" stroke-width="0.8"/>
<line x1="337.5" y1="218.5" x2="442.5" y2="218.5" stroke="#b4b4b4" stroke-width="0.8"/>
<path d="M337.50,218.5v-1.2M337.50,137.5v1.2M340.13,218.5v-0.5M340.13,137.5v0.5M341.67,218.5v-0.5M341.67,137.5v0.5M342.77,218.5v-0.5M342.77,137.5v0.5M343.62,218.5v-0.5M343.62,137.5v0.5M344.31,218.5v-0.5M344.31,137.5v0.5M344.89,218.5v-0.5M344.89,137.5v0.5M345.40,218.5v-0.5M345.40,137.5v0.5M345.85,218.5v-0.5M345.85,137.5v0.5M346.25,218.5v-0.8M346.25,137.5v0.8M348.88,218.5v-0.5M348.88,137.5v0.5M350.42,218.5v-0.5M350.42,137.5v0.5M351.52,218.5v-0.5M351.52,137.5v0.5M352.37,218.5v-0.5M352.37,137.5v0.5M353.06,218.5v-0.5M353.06,137.5v0.5M353.64,218.5v-0.5M353.64,137.5v0.5M354.15,218.5v-0.5M354.15,137.5v0.5M354.60,218.5v-0.5M354.60,137.5v0.5M355.00,218.5v-1.2M355.00,137.5v1.2M357.63,218.5v-0.5M357.63,137.5v0.5M359.17,218.5v-0.5M359.17,137.5v0.5M360.27,218.5v-0.5M360.27,137.5v0.5M361.12,218.5v-0.5M361.12,137.5v0.5M361.81,218.5v-0.5M361.81,137.5v0.5M362.39,218.5v-0.5M362.39,137.5v0.5M362.90,218.5v-0.5M362.90,137.5v0.5M363.35,218.5v-0.5M363.35,137.5v0.5M363.75,218.5v-0.8M363.75,137.5v0.8M366.38,218.5v-0.5M366.38,137.5v0.5M367.92,218.5v-0.5M367.92,137.5v0.5M369.02,218.5v-0.5M369.02,137.5v0.5M369.87,218.5v-0.5M369.87,137.5v0.5M370.56,218.5v-0.5M370.56,137.5v0.5M371.14,218.5v-0.5M371.14,137.5v0.5M371.65,218.5v-0.5M371.65,137.5v0.5M372.10,218.5v-0.5M372.10,137.5v0.5M372.50,218.5v-1.2M372.50,137.5v1.2M375.13,218.5v-0.5M375.13,137.5v0.5M376.67,218.5v-0.5M376.67,137.5v0.5M377.77,218.5v-0.5M377.77,137.5v0.5M378.62,218.5v-0.5M378.62,137.5v0.5M379.31,218.5v-0.5M379.31,137.5v0.5M379.89,218.5v-0.5M379.89,137.5v0.5M380.40,218.5v-0.5M380.40,137.5v0.5M380.85,218.5v-0.5M380.85,137.5v0.5M381.25,218.5v-0.8M381.25,137.5v0.8M383.88,218.5v-0.5M383.88,137.5v0.5M385.42,218.5v-0.5M385.42,137.5v0.5M386.52,218.5v-0.5M386.52,137.5v0.5M387.37,218.5v-0.5M387.37,137.5v0.5M388.06,218.5v-0.5M388.06,137.5v0.5M388.64,218.5v-0.5M388.64,137.5v0.5M389.15,218.5v-0.5M389.15,137.5v0.5M389.60,218.5v-0.5M389.60,137.5v0.5M390.00,218.5v-1.2M390.00,137.5v1.2M392.63,218.5v-0.5M392.63,137.5v0.5M394.17,218.5v-0.5M394.17,137.5v0.5M395.27,218.5v-0.5M395.27,137.5v0.5M396.12,218.5v-0.5M396.12,137.5v0.5M396.81,218.5v-0.5M396.81,137.5v0.5M397.39,218.5v-0.5M397.39,137.5v0.5M397.90,218.5v-0.5M397.90,137.5v0.5M398.35,218.5v-0.5M398.35,137.5v0.5M398.75,218.5v-0.8M398.75,137.5v0.8M401.38,218.5v-0.5M401.38,137.5v0.5M402.92,218.5v-0.5M402.92,137.5v0.5M404.02,218.5v-0.5M404.02,137.5v0.5M404.87,218.5v-0.5M404.87,137.5v0.5M405.56,218.5v-0.5M405.56,137.5v0.5M406.14,218.5v-0.5M406.14,137.5v0.5M406.65,218.5v-0.5M406.65,137.5v0.5M407.10,218.5v-0.5M407.10,137.5v0.5M407.50,218.5v-1.2M407.50,137.5v1.2M410.13,218.5v-0.5M410.13,137.5v0.5M411.67,218.5v-0.5M411.67,137.5v0.5M412.77,218.5v-0.5M412.77,137.5v0.5M413.62,218.5v-0.5M413.62,137.5v0.5M414.31,218.5v-0.5M414.31,137.5v0.5M414.89,218.5v-0.5M414.89,137.5v0.5M415.40,218.5v-0.5M415.40,137.5v0.5M415.85,218.5v-0.5M415.85,137.5v0.5M416.25,218.5v-0.8M416.25,137.5v0.8M418.88,218.5v-0.5M418.88,137.5v0.5M420.42,218.5v-0.5M420.42,137.5v0.5M421.52,218.5v-0.5M421.52,137.5v0.5M422.37,218.5v-0.5M422.37,137.5v0.5M423.06,218.5v-0.5M423.06,137.5v0.5M423.64,218.5v-0.5M423.64,137.5v0.5M424.15,218.5v-0.5M424.15,137.5v0.5M424.60,218.5v-0.5M424.60,137.5v0.5M425.00,218.5v-1.2M425.00,137.5v1.2M427.63,218.5v-0.5M427.63,137.5v0.5M429.17,218.5v-0.5M429.17,137.5v0.5M430.27,218.5v-0.5M430.27,137.5v0.5M431.12,218.5v-0.5M431.12,137.5v0.5M431.81,218.5v-0.5M431.81,137.5v0.5M432.39,218.5v-0.5M432.39,137.5v0.5M432.90,218.5v-0.5M432.90,137.5v0.5M433.35,218.5v-0.5M433.35,137.5v0.5M433.75,218.5v-0.8M433.75,137.5v0.8M436.38,218.5v-0.5M436.38,137.5v0.5M437.92,218.5v-0.5M437.92,137.5v0.5M439.02,218.5v-0.5M439.02,137.5v0.5M439.87,218.5v-0.5M439.87,137.5v0.5M440.56,218.5v-0.5M440.56,137.5v0.5M441.14,218.5v-0.5M441.14,137.5v0.5M441.65,218.5v-0.5M441.65,137.5v0.5M442.10,218.5v-0.5M442.10,137.5v0.5M337.5,218.50h1.2M442.5,218.50h-1.2M337.5,216.76h0.5M442.5,216.76h-0.5M337.5,215.74h0.5M442.5,215.74h-0.5M337.5,215.02h0.5M442.5,215.02h-0.5M337.5,214.46h0.5M442.5,214.46h-0.5M337.5,214.00h0.5M442.5,214.00h-0.5M337.5,213.61h0.5M442.5,213.61h-0.5M337.5,213.27h0.5M442.5,213.27h-0.5M337.5,212.98h0.5M442.5,212.98h-0.5M337.5,212.71h0.8M442.5,212.71h-0.8M337.5,210.97h0.5M442.5,210.97h-0.5M337.5,209.95h0.5M442.5,209.95h-0.5M337.5,209.23h0.5M442.5,209.23h-0.5M337.5,208.67h0.5M442.5,208.67h-0.5M337.5,208.21h0.5M442.5,208.21h-0.5M337.5,207.82h0.5M442.5,207.82h-0.5M337.5,207.49h0.5M442.5,207.49h-0.5M337.5,207.19h0.5M442.5,207.19h-0.5M337.5,206.93h1.2M442.5,206.93h-1.2M337.5,205.19h0.5M442.5,205.19h-0.5M337.5,204.17h0.5M442.5,204.17h-0.5M337.5,203.45h0.5M442.5,203.45h-0.5M337.5,202.88h0.5M442.5,202.88h-0.5M337.5,202.43h0.5M442.5,202.43h-0.5M337.5,202.04h0.5M442.5,202.04h-0.5M337.5,201.70h0.5M442.5,201.70h-0.5M337.5,201.41h0.5M442.5,201.41h-0.5M337.5,201.14h0.8M442.5,201.14h-0.8M337.5,199.40h0.5M442.5,199.40h-0.5M337.5,198.38h0.5M442.5,198.38h-0.5M337.5,197.66h0.5M442.5,197.66h-0.5M337.5,197.10h0.5M442.5,197.10h-0.5M337.5,196.64h0.5M442.5,196.64h-0.5M337.5,196.25h0.5M442.5,196.25h-0.5M337.5,195.92h0.5M442.5,195.92h-0.5M337.5,195.62h0.5M442.5,195.62h-0.5M337.5,195.36h1.2M442.5,195.36h-1.2M337.5,193.62h0.5M442.5,193.62h-0.5M337.5,192.60h0.5M442.5,192.60h-0.5M337.5,191.87h0.5M442.5,191.87h-0.5M337.5,191.31h0.5M442.5,191.31h-0.5M337.5,190.85h0.5M442.5,190.85h-0.5M337.5,190.47h0.5M442.5,190.47h-0.5M337.5,190.13h0.5M442.5,190.13h-0.5M337.5,189.84h0.5M442.5,189.84h-0.5M337.5,189.57h0.8M442.5,189.57h-0.8M337.5,187.83h0.5M442.5,187.83h-0.5M337.5,186.81h0.5M442.5,186.81h-0.5M337.5,186.09h0.5M442.5,186.09h-0.5M337.5,185.53h0.5M442.5,185.53h-0.5M337.5,185.07h0.5M442.5,185.07h-0.5M337.5,184.68h0.5M442.5,184.68h-0.5M337.5,184.35h0.5M442.5,184.35h-0.5M337.5,184.05h0.5M442.5,184.05h-0.5M337.5,183.79h1.2M442.5,183.79h-1.2M337.5,182.04h0.5M442.5,182.04h-0.5M337.5,181.03h0.5M442.5,181.03h-0.5M337.5,180.30h0.5M442.5,180.30h-0.5M337.5,179.74h0.5M442.5,179.74h-0.5M337.5,179.28h0.5M442.5,179.28h-0.5M337.5,178.90h0.5M442.5,178.90h-0.5M337.5,178.56h0.5M442.5,178.56h-0.5M337.5,178.26h0.5M442.5,178.26h-0.5M337.5,178.00h0.8M442.5,178.00h-0.8M337.5,176.26h0.5M442.5,176.26h-0.5M337.5,175.24h0.5M442.5,175.24h-0.5M337.5,174.52h0.5M442.5,174.52h-0.5M337.5,173.96h0.5M442.5,173.96h-0.5M337.5,173.50h0.5M442.5,173.50h-0.5M337.5,173.11h0.5M442.5,173.11h-0.5M337.5,172.77h0.5M442.5,172.77h-0.5M337.5,172.48h0.5M442.5,172.48h-0.5M337.5,172.21h1.2M442.5,172.21h-1.2M337.5,170.47h0.5M442.5,170.47h-0.5M337.5,169.45h0.5M442.5,169.45h-0.5M337.5,168.73h0.5M442.5,168.73h-0.5M337.5,168.17h0.5M442.5,168.17h-0.5M337.5,167.71h0.5M442.5,167.71h-0.5M337.5,167.32h0.5M442.5,167.32h-0.5M337.5,166.99h0.5M442.5,166.99h-0.5M337.5,166.69h0.5M442.5,166.69h-0.5M337.5,166.43h0.8M442.5,166.43h-0.8M337.5,164.69h0.5M442.5,164.69h-0.5M337.5,163.67h0.5M442.5,163.67h-0.5M337.5,162.95h0.5M442.5,162.95h-0.5M337.5,162.38h0.5M442.5,162.38h-0.5M337.5,161.93h0.5M442.5,161.93h-0.5M337.5,161.54h0.5M442.5,161.54h-0.5M337.5,161.20h0.5M442.5,161.20h-0.5M337.5,160.91h0.5M442.5,160.91h-0.5M337.5,160.64h1.2M442.5,160.64h-1.2M337.5,158.90h0.5M442.5,158.90h-0.5M337.5,157.88h0.5M442.5,157.88h-0.5M337.5,157.16h0.5M442.5,157.16h-0.5M337.5,156.60h0.5M442.5,156.60h-0.5M337.5,156.14h0.5M442.5,156.14h-0.5M337.5,155.75h0.5M442.5,155.75h-0.5M337.5,155.42h0.5M442.5,155.42h-0.5M337.5,155.12h0.5M442.5,155.12h-0.5M337.5,154.86h0.8M442.5,154.86h-0.8M337.5,153.12h0.5M442.5,153.12h-0.5M337.5,152.10h0.5M442.5,152.10h-0.5M337.5,151.37h0.5M442.5,151.37h-0.5M337.5,150.81h0.5M442.5,150.81h-0.5M337.5,150.35h0.5M442.5,150.35h-0.5M337.5,149.97h0.5M442.5,149.97h-0.5M337.5,149.63h0.5M442.5,149.63h-0.5M337.5,149.34h0.5M442.5,149.34h-0.5M337.5,149.07h1.2M442.5,149.07h-1.2M337.5,147.33h0.5M442.5,147.33h-0.5M337.5,146.31h0.5M442.5,146.31h-0.5M337.5,145.59h0.5M442.5,145.59h-0.5M337.5,145.03h0.5M442.5,145.03h-0.5M337.5,144.57h0.5M442.5,144.57h-0.5M337.5,144.18h0.5M442.5,144.18h-0.5M337.5,143.85h0.5M442.5,143.85h-0.5M337.5,143.55h0.5M442.5,143.55h-0.5M337.5,143.29h0.8M442.5,143.29h-0.8M337.5,141.54h0.5M442.5,141.54h-0.5M337.5,140.53h0.5M442.5,140.53h-0.5M337.5,139.80h0.5M442.5,139.80h-0.5M337.5,139.24h0.5M442.5,139.24h-0.5M337.5,138.78h0.5M442.5,138.78h-0.5M337.5,138.40h0.5M442.5,138.40h-0.5M337.5,138.06h0.5M442.5,138.06h-0.5M337.5,137.76h0.5M442.5,137.76h-0.5" stroke="#8a8a8a" stroke-width="0.45" fill="none"/>
<text x="337.50" y="223.8" font-size="3.5" text-anchor="middle" fill="#555">10<tspan dy="-1.4" font-size="2.6">-10</tspan></text>
<text x="355.00" y="223.8" font-size="3.5" text-anchor="middle" fill="#555">10<tspan dy="-1.4" font-size="2.6">-8</tspan></text>
<text x="372.50" y="223.8" font-size="3.5" text-anchor="middle" fill="#555">10<tspan dy="-1.4" font-size="2.6">-6</tspan></text>
<text x="390.00" y="223.8" font-size="3.5" text-anchor="middle" fill="#555">10<tspan dy="-1.4" font-size="2.6">-4</tspan></text>
<text x="407.50" y="223.8" font-size="3.5" text-anchor="middle" fill="#555">10<tspan dy="-1.4" font-size="2.6">-2</tspan></text>
<text x="425.00" y="223.8" font-size="3.5" text-anchor="middle" fill="#555">10<tspan dy="-1.4" font-size="2.6">0</tspan></text>
<text x="442.50" y="223.8" font-size="3.5" text-anchor="middle" fill="#555">10<tspan dy="-1.4" font-size="2.6">2</tspan></text>
<text x="336.2" y="138.80" font-size="3.5" text-anchor="end" fill="#555">10<tspan dy="-1.4" font-size="2.6">0</tspan></text>
<text x="336.2" y="150.37" font-size="3.5" text-anchor="end" fill="#555">10<tspan dy="-1.4" font-size="2.6">-2</tspan></text>
<text x="336.2" y="161.94" font-size="3.5" text-anchor="end" fill="#555">10<tspan dy="-1.4" font-size="2.6">-4</tspan></text>
<text x="336.2" y="173.51" font-size="3.5" text-anchor="end" fill="#555">10<tspan dy="-1.4" font-size="2.6">-6</tspan></text>
<text x="336.2" y="185.09" font-size="3.5" text-anchor="end" fill="#555">10<tspan dy="-1.4" font-size="2.6">-8</tspan></text>
<text x="336.2" y="196.66" font-size="3.5" text-anchor="end" fill="#555">10<tspan dy="-1.4" font-size="2.6">-10</tspan></text>
<text x="336.2" y="208.23" font-size="3.5" text-anchor="end" fill="#555">10<tspan dy="-1.4" font-size="2.6">-12</tspan></text>
<text x="336.2" y="219.80" font-size="3.5" text-anchor="end" fill="#555">10<tspan dy="-1.4" font-size="2.6">-14</tspan></text>
<polyline points="347.50,215.20 348.00,214.85 348.50,214.51 349.00,214.16 349.50,213.82 350.00,213.47 350.50,213.13 351.00,212.78 351.50,212.44 352.00,212.09 352.50,211.75 353.00,211.41 353.50,211.06 354.00,210.71 354.50,210.37 355.00,210.02 355.50,209.68 356.00,209.33 356.50,208.99 357.00,208.64 357.50,208.30 358.00,207.95 358.50,207.61 359.00,207.26 359.50,206.92 360.00,206.57 360.50,206.23 361.00,205.88 361.50,205.54 362.00,205.19 362.50,204.85 363.00,204.50 363.50,204.16 364.00,203.81 364.50,203.47 365.00,203.12 365.50,202.78 366.00,202.44 366.50,202.09 367.00,201.75 367.50,201.40 368.00,201.05 368.50,200.71 369.00,200.36 369.50,200.02 370.00,199.67 370.50,199.33 371.00,198.98 371.50,198.64 372.00,198.29 372.50,197.95 373.00,197.60 373.50,197.26 374.00,196.91 374.50,196.57 375.00,196.22 375.50,195.88 376.00,195.53 376.50,195.19 377.00,194.84 377.50,194.50 378.00,194.16 378.50,193.81 379.00,193.46 379.50,193.12 380.00,192.77 380.50,192.43 381.00,192.08 381.50,191.74 382.00,191.39 382.50,191.05 383.00,190.70 383.50,190.36 384.00,190.01 384.50,189.67 385.00,189.32 385.50,188.98 386.00,188.63 386.50,188.29 387.00,187.94 387.50,187.60 388.00,187.25 388.50,186.91 389.00,186.56 389.50,186.22 390.00,185.88 390.50,185.53 391.00,185.19 391.50,184.84 392.00,184.50 392.50,184.15 393.00,183.81 393.50,183.46 394.00,183.11 394.50,182.77 395.00,182.42 395.50,182.08 396.00,181.73 396.50,181.39 397.00,181.04 397.50,180.70 398.00,180.35 398.50,180.01 399.00,179.66 399.50,179.32 400.00,178.97 400.50,178.63 401.00,178.28 401.50,177.94 402.00,177.59 402.50,177.25 403.00,176.91 403.50,176.56 404.00,176.21 404.50,175.87 405.00,175.52 405.50,175.18 406.00,174.83 406.50,174.49 407.00,174.14 407.50,173.80 408.00,173.45 408.50,173.11 409.00,172.76 409.50,172.42 410.00,172.07 410.50,171.74 411.00,171.41 411.50,171.10 412.00,170.79 412.50,170.51 413.00,170.23 413.50,169.97 414.00,169.72 414.50,169.48 415.00,169.25 415.50,169.04 416.00,168.84 416.50,168.65 417.00,168.47 417.50,168.31 418.00,168.15 418.50,168.02 419.00,167.89 419.50,167.78 420.00,167.67 420.50,167.59 421.00,167.51 421.50,167.45 422.00,167.39 422.50,167.36 423.00,167.33 423.50,167.32 424.00,167.31 424.50,167.33 425.00,167.35 425.50,167.39 426.00,167.44 426.50,167.50 427.00,167.57 427.50,167.66 428.00,167.75 428.50,167.87 429.00,167.99 429.50,168.13 430.00,168.27 430.50,168.44 431.00,168.61 431.50,168.80 432.00,168.99 432.50,169.21 433.00,169.43" fill="none" stroke="#555" stroke-width="0.7"/>
<circle cx="347.50" cy="194.40" r="1.15" fill="#ee1111"/>
<circle cx="350.44" cy="192.43" r="1.15" fill="#ee1111"/>
<circle cx="353.38" cy="190.46" r="1.15" fill="#ee1111"/>
<circle cx="356.33" cy="188.49" r="1.15" fill="#ee1111"/>
<circle cx="359.27" cy="186.51" r="1.15" fill="#ee1111"/>
<circle cx="362.21" cy="184.54" r="1.15" fill="#ee1111"/>
<circle cx="365.15" cy="182.57" r="1.15" fill="#ee1111"/>
<circle cx="368.10" cy="180.60" r="1.15" fill="#ee1111"/>
<circle cx="371.04" cy="178.63" r="1.15" fill="#ee1111"/>
<circle cx="373.98" cy="176.66" r="1.15" fill="#ee1111"/>
<circle cx="376.92" cy="174.69" r="1.15" fill="#ee1111"/>
<circle cx="379.87" cy="172.72" r="1.15" fill="#ee1111"/>
<circle cx="382.81" cy="170.74" r="1.15" fill="#ee1111"/>
<circle cx="385.75" cy="168.77" r="1.15" fill="#ee1111"/>
<circle cx="388.69" cy="166.80" r="1.15" fill="#ee1111"/>
<circle cx="391.63" cy="164.83" r="1.15" fill="#ee1111"/>
<circle cx="394.58" cy="162.84" r="1.15" fill="#ee1111"/>
<circle cx="397.52" cy="160.75" r="1.15" fill="#ee1111"/>
<circle cx="400.46" cy="158.58" r="1.15" fill="#ee1111"/>
<circle cx="403.40" cy="156.32" r="1.15" fill="#ee1111"/>
<circle cx="406.35" cy="153.96" r="1.15" fill="#ee1111"/>
<circle cx="409.29" cy="151.51" r="1.15" fill="#ee1111"/>
<circle cx="412.23" cy="148.97" r="1.15" fill="#ee1111"/>
<circle cx="415.17" cy="146.34" r="1.15" fill="#ee1111"/>
<circle cx="418.12" cy="143.62" r="1.15" fill="#ee1111"/>
<circle cx="421.06" cy="140.81" r="1.15" fill="#ee1111"/>
<circle cx="424.00" cy="137.91" r="1.15" fill="#ee1111"/>
<circle cx="432.60" cy="144.50" r="1.15" fill="#ee1111"/>
<path d="M345.95,205.30h3.1l-1.55,3.1z" fill="none" stroke="#3434ee" stroke-width="0.55"/>
<path d="M348.89,203.27h3.1l-1.55,3.1z" fill="none" stroke="#3434ee" stroke-width="0.55"/>
<path d="M351.83,201.24h3.1l-1.55,3.1z" fill="none" stroke="#3434ee" stroke-width="0.55"/>
<path d="M354.78,199.21h3.1l-1.55,3.1z" fill="none" stroke="#3434ee" stroke-width="0.55"/>
<path d="M357.72,197.18h3.1l-1.55,3.1z" fill="none" stroke="#3434ee" stroke-width="0.55"/>
<path d="M360.66,195.15h3.1l-1.55,3.1z" fill="none" stroke="#3434ee" stroke-width="0.55"/>
<path d="M363.60,193.12h3.1l-1.55,3.1z" fill="none" stroke="#3434ee" stroke-width="0.55"/>
<path d="M366.55,191.09h3.1l-1.55,3.1z" fill="none" stroke="#3434ee" stroke-width="0.55"/>
<path d="M369.49,189.06h3.1l-1.55,3.1z" fill="none" stroke="#3434ee" stroke-width="0.55"/>
<path d="M372.43,187.03h3.1l-1.55,3.1z" fill="none" stroke="#3434ee" stroke-width="0.55"/>
<path d="M375.37,185.00h3.1l-1.55,3.1z" fill="none" stroke="#3434ee" stroke-width="0.55"/>
<path d="M378.32,182.97h3.1l-1.55,3.1z" fill="none" stroke="#3434ee" stroke-width="0.55"/>
<path d="M381.26,180.94h3.1l-1.55,3.1z" fill="none" stroke="#3434ee" stroke-width="0.55"/>
<path d="M384.20,178.91h3.1l-1.55,3.1z" fill="none" stroke="#3434ee" stroke-width="0.55"/>
<path d="M387.14,176.88h3.1l-1.55,3.1z" fill="none" stroke="#3434ee" stroke-width="0.55"/>
<path d="M390.08,174.85h3.1l-1.55,3.1z" fill="none" stroke="#3434ee" stroke-width="0.55"/>
<path d="M393.03,172.82h3.1l-1.55,3.1z" fill="none" stroke="#3434ee" stroke-width="0.55"/>
<path d="M395.97,170.79h3.1l-1.55,3.1z" fill="none" stroke="#3434ee" stroke-width="0.55"/>
<path d="M398.91,168.76h3.1l-1.55,3.1z" fill="none" stroke="#3434ee" stroke-width="0.55"/>
<path d="M401.85,166.73h3.1l-1.55,3.1z" fill="none" stroke="#3434ee" stroke-width="0.55"/>
<path d="M404.80,164.95h3.1l-1.55,3.1z" fill="none" stroke="#3434ee" stroke-width="0.55"/>
<path d="M407.74,163.58h3.1l-1.55,3.1z" fill="none" stroke="#3434ee" stroke-width="0.55"/>
<path d="M410.68,162.60h3.1l-1.55,3.1z" fill="none" stroke="#3434ee" stroke-width="0.55"/>
<path d="M413.62,162.01h3.1l-1.55,3.1z" fill="none" stroke="#3434ee" stroke-width="0.55"/>
<path d="M416.57,161.73h3.1l-1.55,3.1z" fill="none" stroke="#3434ee" stroke-width="0.55"/>
<path d="M419.51,161.73h3.1l-1.55,3.1z" fill="none" stroke="#3434ee" stroke-width="0.55"/>
<path d="M422.45,161.73h3.1l-1.55,3.1z" fill="none" stroke="#3434ee" stroke-width="0.55"/>
<path d="M431.05,154.40h3.1l-1.55,3.1z" fill="none" stroke="#3434ee" stroke-width="0.55"/>
<rect x="341.3" y="139.6" width="30.899999999999977" height="17.099999999999994" fill="#fff" stroke="#a8a8a8" stroke-width="0.8"/>
<line x1="342.90000000000003" y1="142.65" x2="352.1" y2="142.65" stroke="#606060" stroke-width="0.8"/>
<text x="352.7" y="144.15" font-size="4.3" fill="#3a3a3a">Exact</text>
<circle cx="347.70" cy="148.35" r="1.15" fill="#ee1111"/>
<text x="352.7" y="149.85" font-size="4.3" fill="#3a3a3a">ADM</text>
<path d="M345.95,152.55h3.5l-1.75,3.1z" fill="none" stroke="#3030e8" stroke-width="0.55"/>
<text x="352.7" y="155.55" font-size="4.3" fill="#3a3a3a">Padé [2,2]</text>
<text x="7.8" y="177" font-size="4.6" fill="#3a3a3a" text-anchor="middle" transform="rotate(-90 7.8 177)">particle density</text>
<text x="166.3" y="177" font-size="4.6" fill="#3a3a3a" text-anchor="middle" transform="rotate(-90 166.3 177)">particle density</text>
<text x="325.1" y="177" font-size="4.6" fill="#3a3a3a" text-anchor="middle" transform="rotate(-90 325.1 177)">particle density</text>
<text x="71.9" y="230.3" font-size="4.6" fill="#3a3a3a" text-anchor="middle">particle size</text>
<text x="230.9" y="230.3" font-size="4.6" fill="#3a3a3a" text-anchor="middle">particle size</text>
<text x="389.7" y="230.3" font-size="4.6" fill="#3a3a3a" text-anchor="middle">particle size</text>
<!-- t labels -->
<rect x="60.6" y="237.8" width="18" height="10" fill="url(#yl)" stroke="#555" stroke-width="0.8"/>
<rect x="218.6" y="237.9" width="19.8" height="9.7" fill="url(#yl)" stroke="#555" stroke-width="0.8"/>
<rect x="377.5" y="237.9" width="19.9" height="9.7" fill="url(#yl)" stroke="#555" stroke-width="0.8"/>
</svg>
<div class="abs b" style="left:57.7px;top:8.5px;font-size:10px;line-height:12px">Hyperbolic Aggregation Equation</div>
<div class="abs b" style="left:275.7px;top:8.1px;font-size:7.3px;line-height:10px;letter-spacing:-0.08px">Coupled Solution Techniques</div>
<div class="abs b" style="left:305.5px;top:33px;width:64px;text-align:center;font-size:7.9px;line-height:9px">Padé<br>approximant</div>
<div class="abs b" style="left:272.7px;top:66px;width:64px;text-align:center;font-size:7.9px;line-height:9px">Decomposition<br>Method</div>
<div class="abs b" style="left:425.8px;top:57.6px;width:0;height:0"><div class="abs" style="transform:translate(-50%,-50%) rotate(90deg);text-align:center;font-size:8px;line-height:8.8px;left:0;top:0">Accelerated Decomposition<br>Method</div></div>
<!-- equation -->
<div class="eq" style="font-family:'Liberation Serif',serif;font-style:normal;-webkit-text-stroke:0.3px #1a1a1a;font-size:10.6px;line-height:12px;left:13.75px;top:34.94px"><i>x</i></div>
<div class="eq" style="font-family:'Liberation Serif',serif;font-style:normal;-webkit-text-stroke:0.3px #1a1a1a;font-size:10.6px;line-height:12px;letter-spacing:0.3px;left:22.06px;top:27.84px"><i>∂n</i>(<i>x</i>,<b class=sp></b><i>t</i>)</div>
<div class="eq" style="font-family:'Liberation Serif',serif;font-style:normal;-webkit-text-stroke:0.3px #1a1a1a;font-size:10.6px;line-height:12px;letter-spacing:0.3px;left:33.28px;top:41.24px"><i>∂t</i></div>
<div class="eq" style="font-family:'DejaVu Serif',serif;font-style:normal;font-size:9.5px;line-height:12px;-webkit-text-stroke:0px;color:#333;left:57.07px;top:34.92px">=</div>
<div class="eq" style="font-family:'DejaVu Serif',serif;font-style:normal;font-size:9px;line-height:12px;-webkit-text-stroke:0px;color:#333;left:67.19px;top:33.84px">−</div>
<div class="eq" style="font-family:'Liberation Serif',serif;font-style:normal;-webkit-text-stroke:0.3px #1a1a1a;font-size:10.6px;line-height:12px;left:79.02px;top:29.05px"><i>∂</i></div>
<div class="eq" style="font-family:'Liberation Serif',serif;font-style:normal;-webkit-text-stroke:0.3px #1a1a1a;font-size:10.6px;line-height:12px;letter-spacing:0.3px;left:76.84px;top:41.14px"><i>∂x</i></div>
<div class="eq" style="font-family:'DejaVu Math TeX Gyre','DejaVu Serif',serif;font-style:normal;font-size:19.5px;line-height:24px;transform:scaleX(0.86);transform-origin:0 0;-webkit-text-stroke:0.45px #1a1a1a;left:92.61px;top:28.86px">∫</div>
<div class="eq" style="font-family:'DejaVu Serif',serif;font-style:italic;font-size:7px;line-height:8px;-webkit-text-stroke:0.25px #1a1a1a;left:101.81px;top:25.66px">x</div>
<div class="eq" style="font-family:'DejaVu Serif',serif;font-style:normal;font-size:5.2px;line-height:6px;-webkit-text-stroke:0.3px #1a1a1a;transform:scaleX(1.3);transform-origin:0 0;left:97.69px;top:47.59px">0</div>
<div class="eq" style="font-family:'DejaVu Math TeX Gyre','DejaVu Serif',serif;font-style:normal;font-size:19.5px;line-height:24px;transform:scaleX(0.86);transform-origin:0 0;-webkit-text-stroke:0.45px #1a1a1a;left:106.05px;top:28.49px">∫</div>
<div class="eq" style="font-family:'DejaVu Serif',serif;font-style:normal;font-size:9px;line-height:8px;-webkit-text-stroke:0.3px #1a1a1a;left:115.10px;top:26.49px">∞</div>
<div class="eq" style="font-family:'DejaVu Serif',serif;font-style:italic;font-size:5.6px;line-height:6px;-webkit-text-stroke:0.3px #1a1a1a;left:111.55px;top:47.62px">x<span style='font-style:normal;margin:0 2.1px'>−</span>w</div>
<div class="eq" style="font-family:'Liberation Serif',serif;font-style:normal;-webkit-text-stroke:0.3px #1a1a1a;font-size:10.6px;line-height:12px;letter-spacing:0.53px;left:129.02px;top:33.82px"><i>vζ</i>(<i>v</i>,<b class=sp></b><i>w</i>)<i>n</i>(<i>v</i>,<b class=sp></b><i>t</i>)<i>n</i>(<i>w</i>,<b class=sp></b><i>t</i>)<i>dvdw</i></div>
<div class="eq" style="font-family:'DejaVu Serif',serif;font-style:italic;font-size:8.2px;line-height:10px;color:#262010;-webkit-text-stroke:0.1px #262010;left:60.28px;top:238.04px">t</div>
<div class="eq" style="font-family:'DejaVu Serif',serif;font-style:normal;font-size:7.6px;line-height:10px;color:#262010;-webkit-text-stroke:0.25px #262010;left:65.85px;top:238.29px">=</div>
<div class="eq" style="font-family:'Liberation Serif',serif;font-style:normal;font-weight:bold;font-size:8.6px;line-height:10px;color:#262010;-webkit-text-stroke:0.1px #262010;left:73.75px;top:237.72px">1</div>
<div class="eq" style="font-family:'DejaVu Serif',serif;font-style:italic;font-size:8.2px;line-height:10px;color:#262010;-webkit-text-stroke:0.1px #262010;left:218.91px;top:238.04px">t</div>
<div class="eq" style="font-family:'DejaVu Serif',serif;font-style:normal;font-size:7.6px;line-height:10px;color:#262010;-webkit-text-stroke:0.25px #262010;left:224.32px;top:238.29px">=</div>
<div class="eq" style="font-family:'Liberation Serif',serif;font-style:normal;font-weight:bold;font-size:8.6px;line-height:10px;color:#262010;-webkit-text-stroke:0.1px #262010;left:232.88px;top:237.66px">3</div>
<div class="eq" style="font-family:'DejaVu Serif',serif;font-style:italic;font-size:8.2px;line-height:10px;color:#262010;-webkit-text-stroke:0.1px #262010;left:378.10px;top:238.04px">t</div>
<div class="eq" style="font-family:'DejaVu Serif',serif;font-style:normal;font-size:7.6px;line-height:10px;color:#262010;-webkit-text-stroke:0.25px #262010;left:383.56px;top:238.29px">=</div>
<div class="eq" style="font-family:'Liberation Serif',serif;font-style:normal;font-weight:bold;font-size:8.6px;line-height:10px;color:#262010;-webkit-text-stroke:0.1px #262010;left:391.88px;top:237.60px">5</div>
<div class="eq" style="font-family:'DejaVu Serif',serif;font-style:italic;font-size:10px;line-height:12px;color:#1e1a16;left:25.48px;top:84.04px">y</div>
<div class="eq" style="font-family:'DejaVu Serif',serif;font-style:italic;font-size:10px;line-height:12px;color:#1e1a16;left:82.32px;top:83.88px">x</div>
<div class="eq" style="font-family:'DejaVu Serif',serif;font-style:normal;font-size:9px;line-height:12px;color:#1e1a16;left:90.38px;top:84.41px">−</div>
<div class="eq" style="font-family:'DejaVu Serif',serif;font-style:italic;font-size:10px;line-height:12px;color:#1e1a16;left:99.72px;top:84.04px">y</div>
<div class="eq" style="font-family:'DejaVu Serif',serif;font-style:italic;font-size:10px;line-height:12px;color:#1e1a16;left:215.32px;top:83.97px">x</div>
<div class="abs" style="left:20.7px;top:39.7px;width:33.5px;height:1px;background:#4a4a4a"></div>
<div class="abs" style="left:76px;top:39.7px;width:11.6px;height:1px;background:#4a4a4a"></div>
<div class="abs" style="left:90px;top:28.3px;width:2.4px;height:23.3px;border:1.1px solid #222;border-right:none"></div>
<div class="abs" style="left:247.2px;top:28.3px;width:2.2px;height:23.3px;border:1.1px solid #222;border-left:none"></div>
</body></html>
